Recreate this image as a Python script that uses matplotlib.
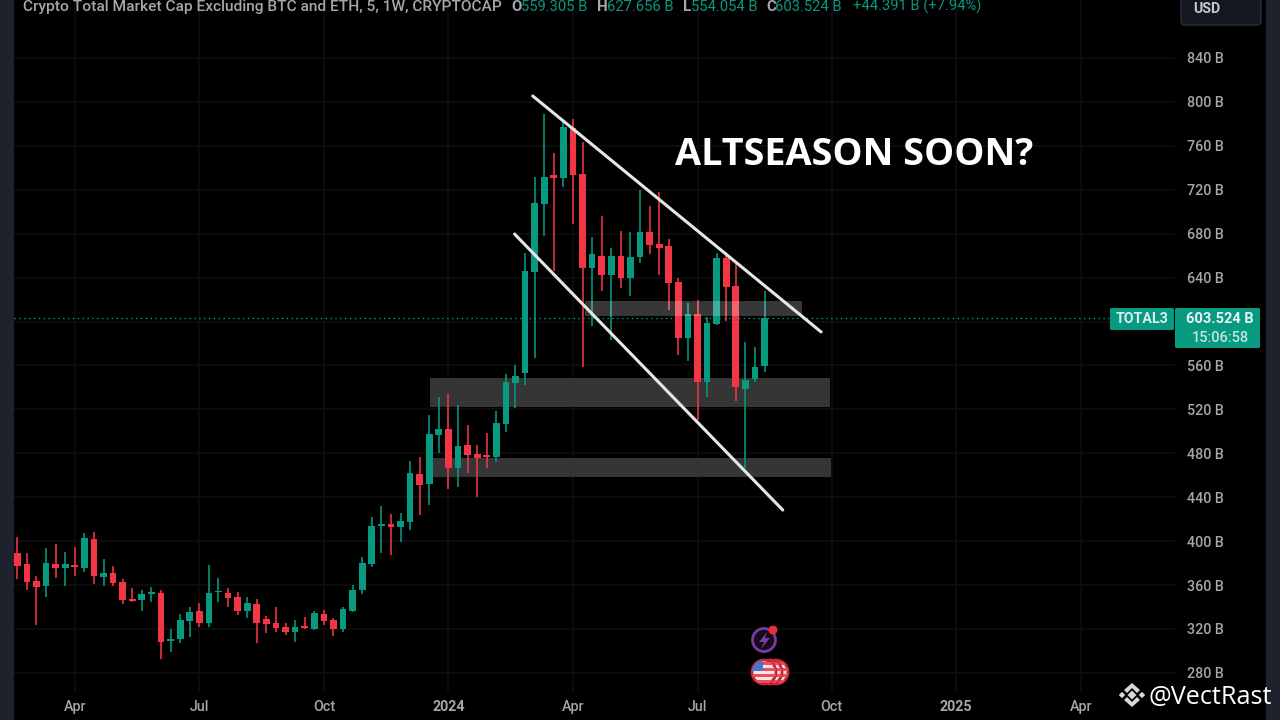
import numpy as np
import matplotlib
matplotlib.use("Agg")
import matplotlib.pyplot as plt
from matplotlib.patches import Rectangle, Circle, Polygon, FancyBboxPatch

# weekly candles, values in billion USD
opens = [388.9, 379.2, 363.7, 359.2, 379.2, 375.9, 378.6, 375.9, 401.7, 367.7,
         371.0, 362.8, 347.3, 346.4, 351.9, 353.1, 309.1, 310.6, 327.3, 336.4,
         325.8, 353.4, 353.1, 349.4, 336.7, 342.5, 329.4, 325.8, 321.8, 317.6,
         322.7, 319.7, 334.0, 328.2, 319.7, 336.7, 355.5, 379.2, 414.1, 415.9,
         412.6, 417.7, 461.1, 452.0, 496.3, 501.8, 466.3, 487.5, 479.3, 478.4,
         476.9, 506.3, 543.7, 553.0, 644.7, 706.7, 733.1, 730.4, 775.9, 734.0,
         648.4, 659.9, 642.3, 659.9, 639.9, 659.0, 681.8, 670.9, 668.8, 636.3,
         585.3, 606.6, 544.9, 597.8, 657.6, 632.7, 538.9, 547.4, 559.305]
highs = [403.5, 388.9, 368.3, 393.5, 397.4, 390.4, 395.0, 407.1, 408.3, 384.1,
         377.4, 365.2, 357.0, 355.5, 358.0, 355.5, 320.0, 333.7, 340.3, 344.0,
         378.0, 366.1, 357.0, 354.0, 348.8, 347.0, 331.8, 340.3, 325.8, 328.2,
         330.6, 336.4, 337.3, 329.7, 340.0, 360.1, 385.3, 422.3, 432.0, 424.7,
         426.0, 473.2, 476.9, 514.8, 531.5, 534.0, 524.2, 505.4, 487.2, 498.7,
         518.8, 552.2, 560.1, 662.7, 731.3, 789.0, 753.1, 782.9, 784.1, 763.7,
         676.6, 696.1, 667.2, 682.7, 681.8, 719.7, 705.5, 718.2, 674.9, 640.0,
         616.6, 619.6, 603.8, 662.7, 663.6, 652.4, 581.7, 577.1, 627.656]
lows = [365.8, 355.5, 323.3, 349.4, 366.1, 359.2, 368.6, 372.2, 361.3, 359.2,
        359.2, 342.5, 344.9, 336.4, 344.9, 292.4, 298.7, 306.9, 313.0, 322.1,
        322.1, 344.9, 339.7, 333.1, 330.3, 306.9, 316.1, 317.6, 314.5, 307.9,
        320.0, 319.1, 323.3, 313.9, 317.3, 335.2, 351.9, 376.8, 388.9, 387.7,
        399.2, 410.1, 423.8, 432.9, 480.5, 447.1, 449.6, 461.7, 439.8, 466.3,
        472.0, 499.3, 520.9, 542.5, 566.4, 678.1, 646.0, 722.8, 688.5, 558.8,
        595.9, 627.7, 583.1, 630.2, 623.2, 653.0, 661.1, 642.3, 610.5, 569.5,
        564.1, 510.3, 531.0, 596.9, 600.8, 527.9, 466.3, 544.6, 554.054]
closes = [377.4, 363.1, 358.0, 380.4, 375.9, 379.2, 376.8, 403.2, 368.6, 371.0,
          361.6, 346.4, 345.8, 351.6, 353.4, 308.2, 310.6, 328.2, 335.2, 325.8,
          353.1, 354.6, 348.5, 336.7, 343.4, 325.8, 324.9, 321.2, 317.3, 322.1,
          320.9, 334.3, 327.0, 320.0, 337.9, 355.5, 380.4, 413.8, 415.9, 412.6,
          418.7, 462.3, 451.1, 497.2, 501.8, 466.3, 486.3, 478.4, 475.7, 476.6,
          507.8, 544.6, 550.7, 646.0, 707.6, 731.3, 731.0, 776.8, 733.1, 648.4,
          661.4, 642.3, 659.9, 639.9, 659.0, 681.8, 669.6, 667.2, 635.4, 585.3,
          606.6, 544.9, 598.4, 657.9, 631.8, 540.1, 547.1, 558.9, 603.524]

# drawn levels: (first week, last week, low, high)
zones_under = [(43.1, 84.8, 522.0, 548.6), (43.2, 84.9, 458.4, 475.7)]
zone_over = (59.3, 81.9, 605.0, 619.0)
# drawn trend lines: weeks, prices
upper_weeks = [53.8, 83.9]
upper_prices = [805.4, 590.5]
lower_weeks = [51.9, 79.9]
lower_prices = [679.7, 428.3]

price_ticks = list(range(280, 841, 40))
week_ticks = [6, 19, 32, 45, 58, 71, 85, 98, 111]
week_labels = ["Apr", "Jul", "Oct", "2024", "Apr", "Jul", "Oct", "2025", "Apr"]

GREEN = "#089981"
RED = "#f23645"
SIDE = "#1e222d"
GRID = "#0f0f0f"
LABEL = "#a3a6ad"

plt.rcParams["font.family"] = ["Roboto", "DejaVu Sans"]

fig = plt.figure(figsize=(12.8, 7.2), dpi=100, facecolor="black")
ax = fig.add_axes([14 / 1280, 28 / 720, (1175 - 14) / 1280, 692 / 720])
ax.set_facecolor("black")
ax.set_xlim(-0.344, 120.84)
ax.set_ylim(262.6, 892.8)

for s in ax.spines.values():
    s.set_visible(False)
ax.yaxis.tick_right()
ax.set_yticks(price_ticks)
# the 600 B label sits under the price tag
ax.set_yticklabels(["" if p == 600 else str(p) + " B" for p in price_ticks], fontweight="medium")
ax.set_xticks(week_ticks)
ax.set_xticklabels(week_labels, fontweight="medium")
ax.tick_params(axis="y", length=0, pad=8.6, labelsize=10.3, labelcolor=LABEL)
ax.tick_params(axis="x", length=0, pad=6, labelsize=10.3, labelcolor=LABEL)
ax.get_xticklabels()[3].set_fontweight("bold")
ax.get_xticklabels()[7].set_fontweight("bold")
ax.grid(True, color=GRID, lw=1.2)
ax.set_axisbelow(True)

for z in zones_under:
    ax.add_patch(Rectangle((z[0], z[2]), z[1] - z[0], z[3] - z[2], fc="#353535", ec="none", zorder=1))

weeks = np.arange(len(opens))
o = np.array(opens)
h = np.array(highs)
l = np.array(lows)
c = np.array(closes)
colors = [GREEN if c[i] >= o[i] else RED for i in range(len(o))]

ax.vlines(weeks, l, h, colors=colors, lw=1.15, zorder=2)
ax.bar(weeks, np.abs(c - o), bottom=np.minimum(o, c), width=0.7, color=colors, zorder=3)

ax.add_patch(Rectangle((zone_over[0], zone_over[2]), zone_over[1] - zone_over[0], zone_over[3] - zone_over[2],
                       fc="white", alpha=0.22, ec="none", zorder=4))

ax.plot(upper_weeks, upper_prices, color="#e6e6e6", lw=2.2, solid_capstyle="round", zorder=5)
ax.plot(lower_weeks, lower_prices, color="#e6e6e6", lw=2.2, solid_capstyle="round", zorder=5)

# last price line stops at the TOTAL3 tag
ax.plot([-0.344, 114], [closes[-1], closes[-1]], color=GREEN, lw=1, ls=(0, (1, 2.5)), zorder=1.5)

# overlay in pixel space for the side bars, header, tags and logos
ov = fig.add_axes([0, 0, 1, 1], facecolor="none")
ov.set_xlim(0, 1280)
ov.set_ylim(720, 0)
ov.axis("off")

ov.add_patch(Rectangle((0, 0), 14, 720, fc=SIDE, ec="none"))
ov.add_patch(Rectangle((1266, 0), 14, 720, fc=SIDE, ec="none"))

ov.text(23, 11, "Crypto Total Market Cap Excluding BTC and ETH, 5, 1W, CRYPTOCAP", color=LABEL, fontsize=11.15,
        va="baseline", ha="left", fontweight="medium")
for x, t in [(511, "O"), (597, "H"), (683, "L"), (766, "C")]:
    ov.text(x, 11, t, color=LABEL, fontsize=10.8, va="baseline", ha="left", fontweight="bold")
for x, t in [(521, "559.305 B"), (607, "627.656 B"), (691, "554.054 B"), (775, "603.524 B"),
             (853, "+44.391 B (+7.94%)")]:
    ov.text(x, 11, t, color=GREEN, fontsize=10.6, va="baseline", ha="left")

ov.add_patch(FancyBboxPatch((1181, -10), 80, 35, boxstyle="round,pad=0,rounding_size=4",
                            fc="#131722", ec="#2a2e39", lw=1))
ov.text(1193, 9, "USD", color="#c4c6cc", fontsize=10.3, va="center", ha="left", fontweight="bold")

ov.add_patch(FancyBboxPatch((1110, 308), 64, 22, boxstyle="round,pad=0,rounding_size=1.5", fc=GREEN, ec="none"))
ov.text(1142, 319, "TOTAL3", color="#d6efe9", fontsize=10.3, va="center", ha="center", fontweight="bold")
ov.add_patch(FancyBboxPatch((1175, 308), 85, 40, boxstyle="round,pad=0,rounding_size=1.5", fc=GREEN, ec="none"))
ov.text(1220, 319, "603.524 B", color="#e6f5f2", fontsize=10.5, va="center", ha="center", fontweight="bold")
ov.text(1220, 338, "15:06:58", color="#c2e6de", fontsize=10.5, va="center", ha="center", fontweight="medium")

ov.text(675, 155, "ALTSEASON SOON?", color="white", fontsize=27.3, family="Open Sans", fontweight="bold",
        va="center", ha="left")

# binance style mark + handle
def diamond(cx, cy, r, col="#d9d9d9"):
    ov.add_patch(Polygon([(cx, cy - r), (cx + r, cy), (cx, cy + r), (cx - r, cy)], fc=col, ec="none"))

diamond(1132, 695, 4.5)
diamond(1122, 695, 3.2)
diamond(1142, 695, 3.2)
ov.add_patch(Polygon([(1132, 683), (1140, 690), (1137, 693), (1132, 688), (1127, 693), (1124, 690)], fc="#d9d9d9", ec="none"))
ov.add_patch(Polygon([(1132, 707), (1140, 700), (1137, 697), (1132, 702), (1127, 697), (1124, 700)], fc="#d9d9d9", ec="none"))
ov.text(1149, 698, "@VectRast", color="white", fontsize=18.2, family="Open Sans", va="center", ha="left")

# event icons under the candles
ov.add_patch(Circle((764, 640), 11.5, fc="#140b1a", ec="#7a3a9e", lw=2))
ov.add_patch(Polygon([(767, 632), (759, 642), (764, 642), (761, 649), (770, 638), (765, 638)], fc="#7a3a9e", ec="none"))
ov.add_patch(Circle((773, 630), 4.5, fc="#e5303c", ec="none"))

for cx in (776, 770, 764):
    disc = Circle((cx, 672), 12, fc="#f4e6e6", ec="#cc2233", lw=2)
    ov.add_patch(disc)
    for yy in range(662, 684, 6):
        st = Rectangle((cx - 12, yy), 24, 3, fc="#e65060", ec="none")
        ov.add_patch(st)
        st.set_clip_path(disc)
    cn = Rectangle((cx - 12, 660), 11, 11, fc="#4a78c8", ec="none")
    ov.add_patch(cn)
    cn.set_clip_path(disc)

fig.savefig("out.png", dpi=100, facecolor="black")
